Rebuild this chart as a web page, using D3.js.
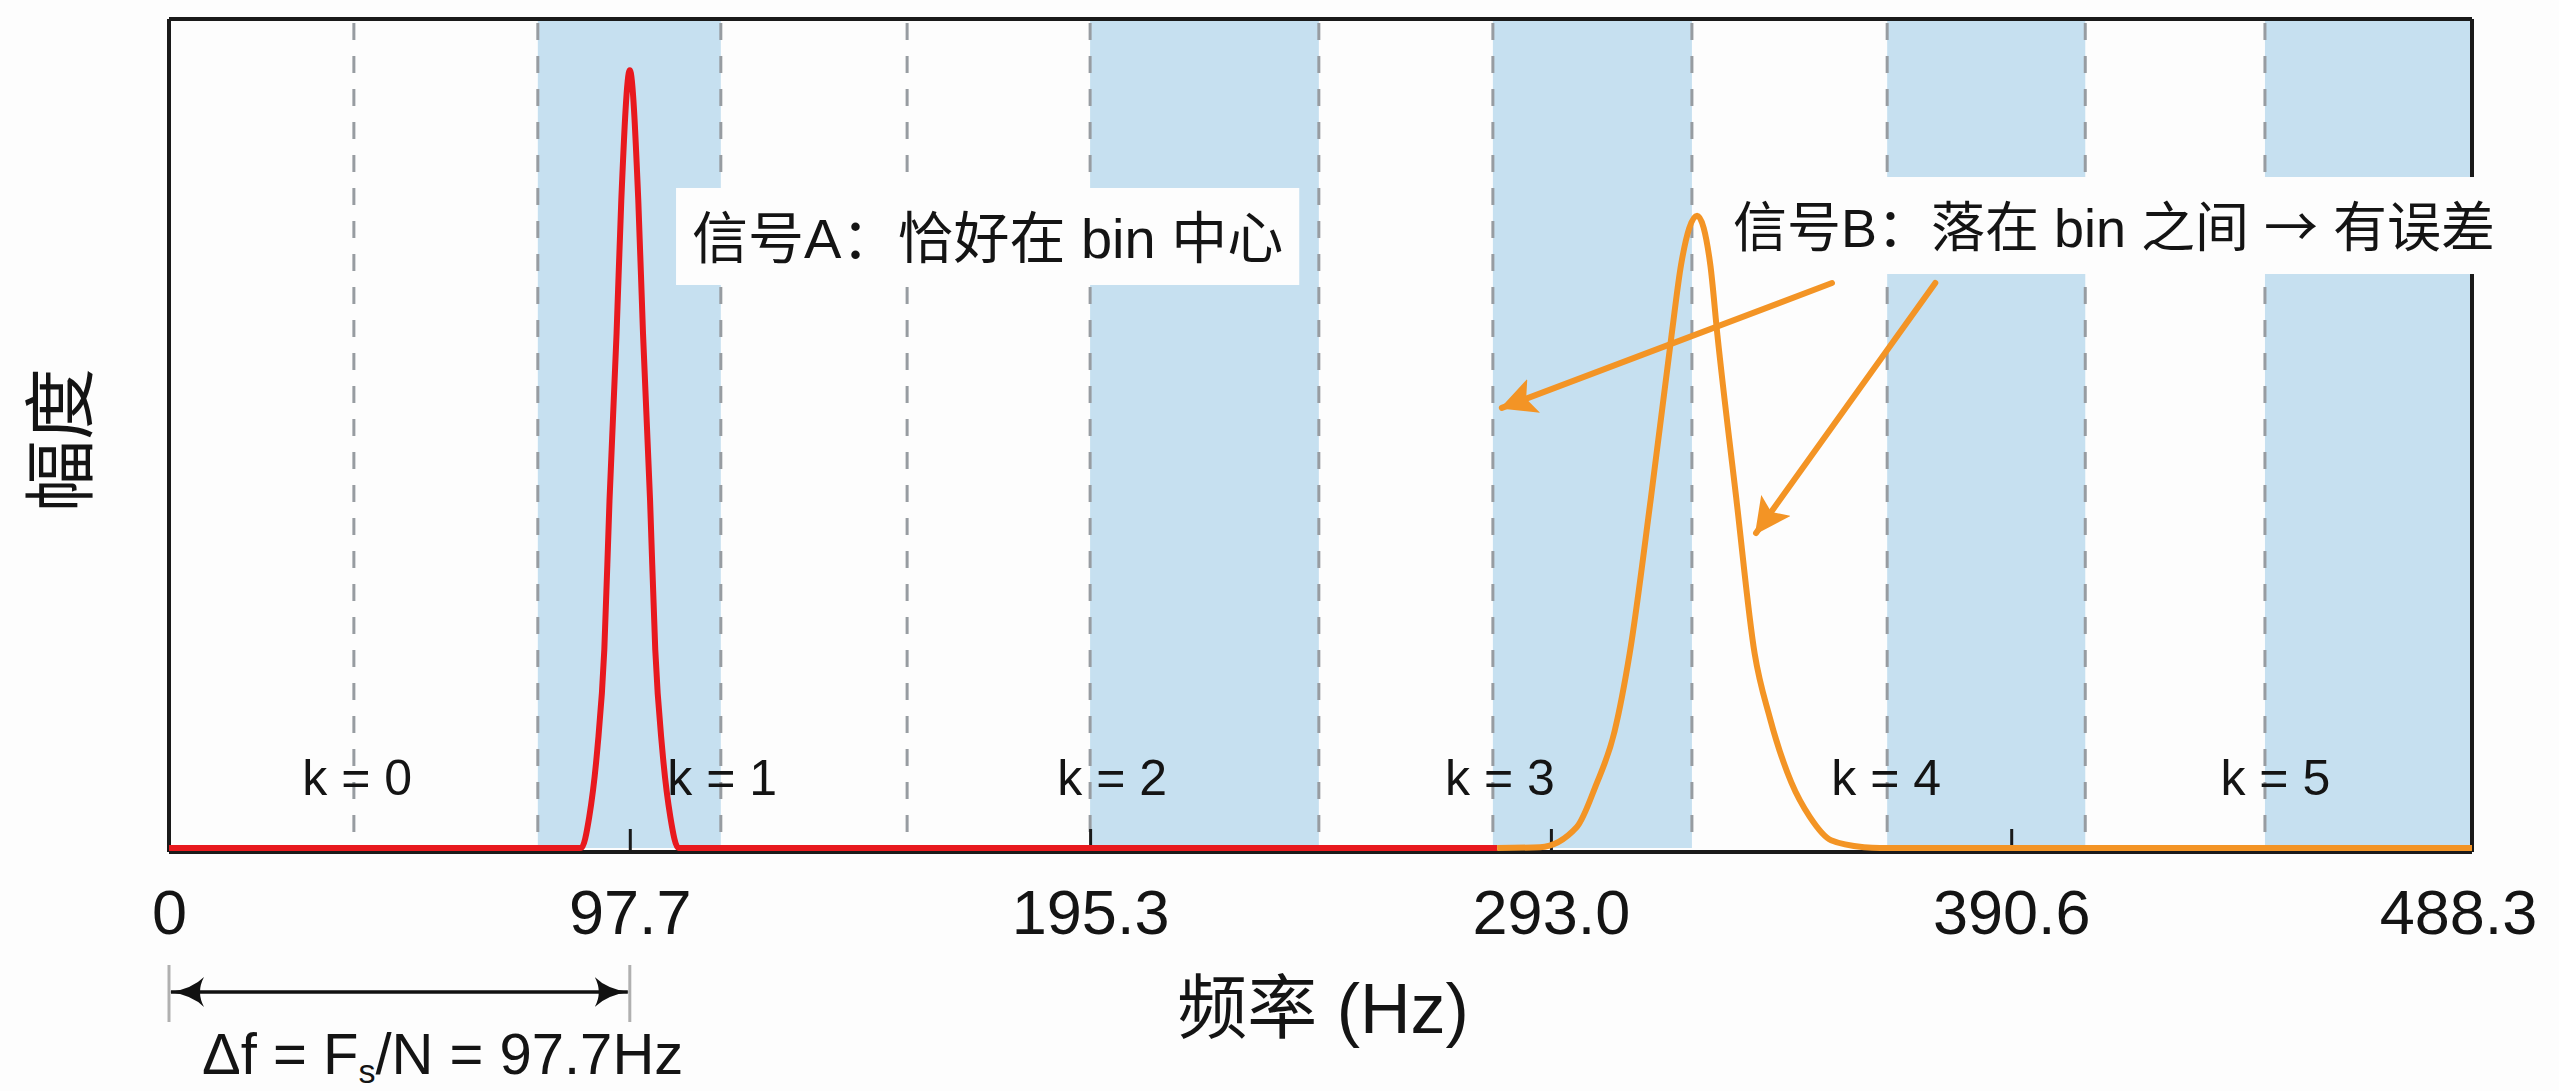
<!DOCTYPE html>
<html>
<head>
<meta charset="utf-8">
<script src="https://cdn.jsdelivr.net/npm/d3@7"></script>
<style>
body { margin: 0; background: #fdfdfd; }
text { font-family: "Liberation Sans", Arial, "Noto Sans CJK SC", sans-serif; fill: #141414; }
</style>
</head>
<body>
<svg id="chart" width="2559" height="1091"></svg>
<script>
// ---- data ----
let tickValues = [0, 97.7, 195.3, 293.0, 390.6, 488.3];
let binEdges = [39.2, 78.2, 117.0, 156.5, 195.3, 243.8, 280.7, 322.9, 364.3, 406.3, 444.4];
let bandStarts = [78.2, 195.3, 280.7, 364.3, 444.4];
let bandEnds = [117.0, 243.8, 322.9, 406.3, 488.3];
let kLabels = ['k = 0', 'k = 1', 'k = 2', 'k = 3', 'k = 4', 'k = 5'];
let kPositions = [39.9, 117.3, 200.0, 282.2, 364.1, 446.6];

// signal A (red), sits right on bin k = 1
let redFreq = [0, 87.4, 89.1, 90.8, 92.3, 93.4, 94.9, 95.9, 97.7, 99.5, 100.5, 102.0, 103.1, 104.6, 106.3, 108.0, 281.6];
let redAmp = [0, 0, 0.04, 0.126, 0.255, 0.447, 0.662, 0.833, 1.0, 0.833, 0.662, 0.447, 0.255, 0.126, 0.04, 0, 0];

// signal B (orange), between bins
let orangeFreq = [281.6, 290.7, 298.5, 302.5, 306.5, 309.7, 314.2, 318.6, 320.6, 324.0, 326.8, 328.3, 332.3, 336.2, 339.4, 344.0, 347.9, 352.4, 359.4, 362.8, 488.3];
let orangeAmp = [0, 0.001, 0.027, 0.08, 0.15, 0.25, 0.45, 0.66, 0.75, 0.813, 0.75, 0.66, 0.45, 0.25, 0.168, 0.084, 0.040, 0.010, 0.001, 0, 0];

let labelA = ['信号A：恰好在 bin 中心'];
let labelAPos = [110.9, 0.7587];
let labelB = ['信号B：落在 bin 之间 ', '→', ' 有误差'];
let labelBPos = [331.6, 0.7728];

// annotation arrows from label B
let arrowFromHz = [352.6, 374.5];
let arrowFromAmp = [0.7265, 0.7265];
let arrowToHz = [282.6, 336.5];
let arrowToAmp = [0.566, 0.405];

let xTitle = '频率 (Hz)';
let yTitle = '幅度';

// ---- setup ----
let svg = d3.select('#chart');
let plotLeft = 169, plotRight = 2472, plotTop = 19, plotBottom = 852;

let x = d3.scaleLinear().domain([0, 488.3]).range([plotLeft, plotRight]);
let y = d3.scaleLinear().domain([0, 1.066]).range([848, plotTop]);

let red = '#e8191e';
let orange = '#f39425';

svg.append('rect').attr('width', 2559).attr('height', 1091).attr('fill', '#fdfdfd');

// shaded bins
svg.selectAll('.band')
    .data(bandStarts)
    .enter()
    .append('rect')
    .attr('class', 'band')
    .attr('x', d => x(d))
    .attr('y', plotTop + 2)
    .attr('width', (d, i) => x(bandEnds[i]) - x(d))
    .attr('height', 848 - plotTop - 2)
    .attr('fill', '#c6e0f0');

// bin edges
svg.selectAll('.edge')
    .data(binEdges)
    .enter()
    .append('line')
    .attr('class', 'edge')
    .attr('x1', d => x(d))
    .attr('x2', d => x(d))
    .attr('y1', plotTop + 4)
    .attr('y2', 847)
    .attr('stroke', '#979ca1')
    .attr('stroke-width', 3)
    .attr('stroke-dasharray', '17,16');

// frame
let frame = svg.append('g').attr('stroke', '#1a1a1a').attr('stroke-width', 4).attr('fill', 'none');
frame.append('line').attr('x1', plotLeft).attr('x2', plotRight).attr('y1', plotTop).attr('y2', plotTop);
frame.append('line').attr('x1', plotLeft).attr('x2', plotLeft).attr('y1', plotTop).attr('y2', plotBottom);
frame.append('line').attr('x1', plotRight).attr('x2', plotRight).attr('y1', plotTop).attr('y2', plotBottom);
frame.append('line').attr('x1', plotLeft).attr('x2', plotRight).attr('y1', plotBottom).attr('y2', plotBottom);

// x axis, ticks pointing inward
let xAxis = d3.axisBottom(x)
    .tickValues(tickValues)
    .tickSizeInner(-23)
    .tickSizeOuter(0)
    .tickPadding(37)
    .tickFormat(d => (d === 0 ? '0' : d.toFixed(1)));

let axisG = svg.append('g').attr('transform', 'translate(0,' + plotBottom + ')').call(xAxis);
axisG.select('.domain').remove();
axisG.selectAll('.tick line').attr('stroke', '#1a1a1a').attr('stroke-width', 3);
axisG.selectAll('.tick text')
    .attr('font-size', 63)
    .attr('font-family', '"Liberation Sans", Arial, sans-serif')
    .attr('fill', '#141414');
axisG.selectAll('.tick text').filter(d => d === 488.3).attr('dx', -14);

// k labels
svg.selectAll('.klabel')
    .data(kLabels)
    .enter()
    .append('text')
    .attr('class', 'klabel')
    .attr('x', (d, i) => x(kPositions[i]))
    .attr('y', 795)
    .attr('text-anchor', 'middle')
    .attr('font-size', 50)
    .text(d => d);

// label boxes + labels
function addLabel(parts, pos, size) {
    let g = svg.append('g');
    let box = g.append('rect').attr('fill', '#fdfdfd');
    let t = g.append('text')
        .attr('x', x(pos[0]))
        .attr('y', y(pos[1]))
        .attr('font-size', size);
    parts.forEach(p => {
        let s = t.append('tspan').text(p);
        if (p === '→') s.attr('font-family', '"Noto Sans CJK SC", sans-serif');
    });
    let w = t.node().getComputedTextLength();
    box.attr('x', x(pos[0]) - 16)
        .attr('y', y(pos[1]) - 70)
        .attr('width', w + 32)
        .attr('height', 97);
}
addLabel(labelA, labelAPos, 56);
addLabel(labelB, labelBPos, 54);

// spectra
let line = d3.line()
    .x(d => x(d[0]))
    .y(d => y(d[1]))
    .curve(d3.curveMonotoneX);

svg.append('path')
    .datum(redFreq.map((f, i) => [f, redAmp[i]]))
    .attr('d', line)
    .attr('fill', 'none')
    .attr('stroke', red)
    .attr('stroke-width', 6)
    .attr('stroke-linejoin', 'round');

svg.append('path')
    .datum(orangeFreq.map((f, i) => [f, orangeAmp[i]]))
    .attr('d', line)
    .attr('fill', 'none')
    .attr('stroke', orange)
    .attr('stroke-width', 6)
    .attr('stroke-linejoin', 'round');

// orange arrows
let defs = svg.append('defs');
defs.append('marker')
    .attr('id', 'headB')
    .attr('viewBox', '0 0 36 36')
    .attr('refX', 34)
    .attr('refY', 18)
    .attr('markerWidth', 36)
    .attr('markerHeight', 36)
    .attr('markerUnits', 'userSpaceOnUse')
    .attr('orient', 'auto')
    .append('path')
    .attr('d', 'M0,0 L36,18 L0,36 L8,18 Z')
    .attr('fill', orange);

arrowFromHz.forEach((f, i) => {
    svg.append('line')
        .attr('x1', x(f))
        .attr('y1', y(arrowFromAmp[i]))
        .attr('x2', x(arrowToHz[i]))
        .attr('y2', y(arrowToAmp[i]))
        .attr('stroke', orange)
        .attr('stroke-width', 6)
        .attr('stroke-linecap', 'round')
        .attr('marker-end', 'url(#headB)');
});

// delta f dimension
let dimY = 992;
svg.selectAll('.ext')
    .data([0, 97.7])
    .enter()
    .append('line')
    .attr('x1', d => x(d))
    .attr('x2', d => x(d))
    .attr('y1', 965)
    .attr('y2', 1022)
    .attr('stroke', '#b0b0b0')
    .attr('stroke-width', 3);

defs.append('marker')
    .attr('id', 'headK')
    .attr('viewBox', '0 0 34 30')
    .attr('refX', 33)
    .attr('refY', 15)
    .attr('markerWidth', 34)
    .attr('markerHeight', 30)
    .attr('markerUnits', 'userSpaceOnUse')
    .attr('orient', 'auto-start-reverse')
    .append('path')
    .attr('d', 'M0,0 Q12,12 34,15 Q12,18 0,30 Q8,15 0,0 Z')
    .attr('fill', '#111');

svg.append('line')
    .attr('x1', x(0) + 2)
    .attr('x2', x(97.7) - 2)
    .attr('y1', dimY)
    .attr('y2', dimY)
    .attr('stroke', '#111')
    .attr('stroke-width', 3.5)
    .attr('marker-start', 'url(#headK)')
    .attr('marker-end', 'url(#headK)');

let df = svg.append('text')
    .attr('x', x(0) + 33)
    .attr('y', 1074)
    .attr('font-size', 58);
df.append('tspan').text('Δf = F');
df.append('tspan').attr('font-size', 34).attr('dy', 9).text('s');
df.append('tspan').attr('dy', -9).text('/N = 97.7Hz');

// axis titles
svg.append('text')
    .attr('x', 1323)
    .attr('y', 1033)
    .attr('text-anchor', 'middle')
    .attr('font-size', 70)
    .text(xTitle);

svg.append('text')
    .attr('transform', 'translate(86,440) rotate(-90)')
    .attr('text-anchor', 'middle')
    .attr('font-size', 72)
    .attr('font-family', '"Noto Sans CJK SC", sans-serif')
    .text(yTitle);
</script>
</body>
</html>
